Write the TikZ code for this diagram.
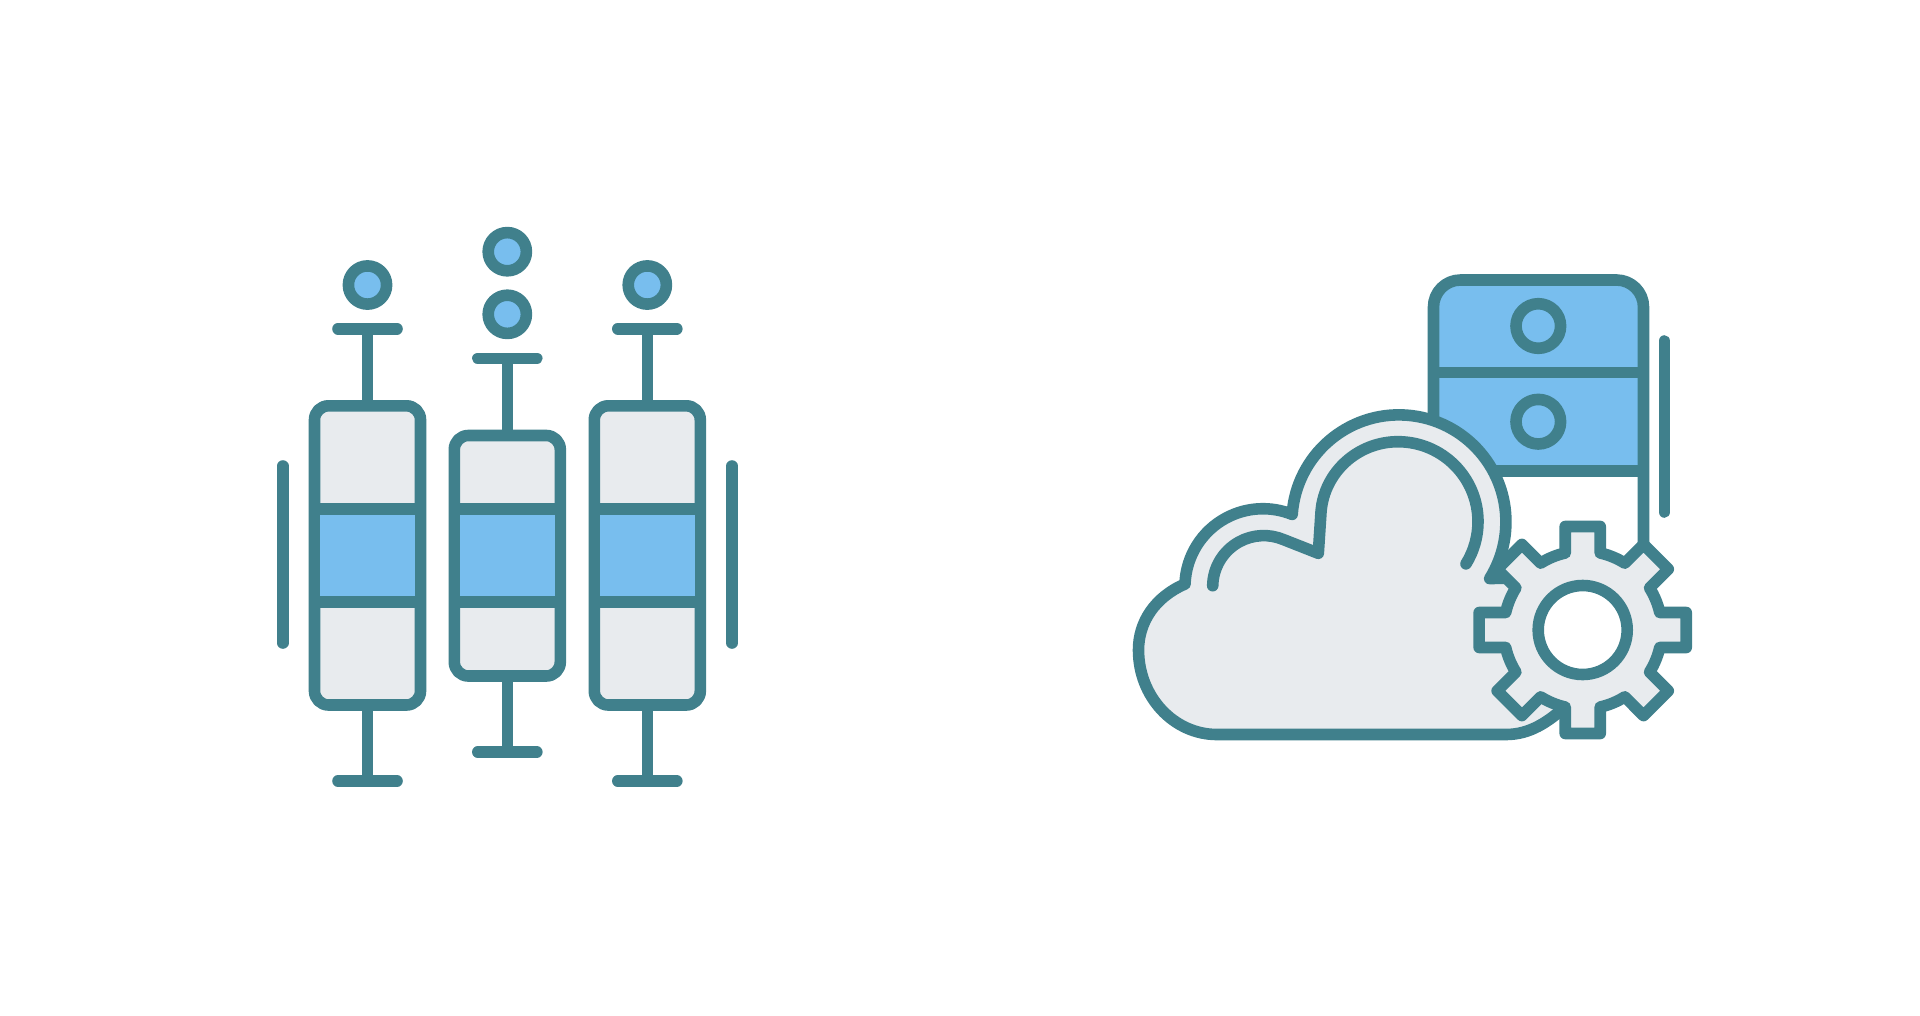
\documentclass[tikz,border=0pt]{standalone}
\definecolor{teal}{RGB}{64,128,140}
\definecolor{skyb}{RGB}{120,190,238}
\definecolor{pale}{RGB}{232,235,238}
\tikzset{
  ink/.style={draw=teal,line width=11.6pt,line join=round},
  tick/.style={ink,line cap=round},
  bar/.style={ink,line cap=butt},
}
\newcommand{\candle}[5]{%
  % cx, top, bottom, top-cap y, bottom-cap y
  \draw[bar,fill=pale,rounded corners=14pt] (#1-53,#2) rectangle (#1+53,#3);
  \draw[bar,fill=skyb] (#1-53,509) rectangle (#1+53,601.7);
  \draw[bar] (#1,#2) -- (#1,#4);
  \draw[bar] (#1,#3) -- (#1,#5);
  \draw[tick] (#1-29.5,#4) -- (#1+29.5,#4);
  \draw[tick] (#1-29.5,#5) -- (#1+29.5,#5);
}
\begin{document}
\begin{tikzpicture}[x=1pt,y=1pt,yscale=-1]
\useasboundingbox (0,0) rectangle (1920,1015);
\fill[white] (0,0) rectangle (1920,1015);
% ---------- left icon
\candle{367.5}{405.8}{705}{328.7}{781}
\candle{507.3}{435.5}{676}{358.3}{752}
\candle{647.3}{405.8}{705}{328.7}{781}
\draw[ink,fill=skyb] (367.5,285) circle[radius=19.1pt];
\draw[ink,fill=skyb] (507.3,251.7) circle[radius=19.1pt];
\draw[ink,fill=skyb] (507.3,314.3) circle[radius=19.1pt];
\draw[ink,fill=skyb] (647.3,285) circle[radius=19.1pt];
\draw[tick] (282.7,466) -- (282.7,643);
\draw[tick] (732,466) -- (732,643);
% ---------- server
\fill[skyb,rounded corners=27pt] (1433.5,520) -- (1433.5,280) -- (1643.5,280) -- (1643.5,520) -- cycle;
\fill[white] (1433.5,470.7) rectangle (1643.5,560);
\draw[ink,rounded corners=27pt] (1433.5,520) -- (1433.5,280) -- (1643.5,280) -- (1643.5,548);
\draw[bar] (1433.5,372.3) -- (1643.5,372.3);
\draw[bar] (1433.5,470.7) -- (1643.5,470.7);
\draw[ink] (1538.3,326) circle[radius=22.3pt];
\draw[ink] (1538.3,421.7) circle[radius=22.3pt];
\draw[tick] (1664.3,341) -- (1664.3,512);
% ---------- cloud
\draw[ink,fill=pale]
  (1217,734.5) arc[start angle=90,end angle=180,x radius=78.5pt,y radius=84.5pt]
  .. controls (1138.5,622) and (1155,597) .. (1185,584)
  arc[start angle=182,end angle=292,radius=78pt]
  arc[start angle=184,end angle=392,radius=107pt]
  -- (1512,578) -- (1560,640) -- (1566,706)
  .. controls (1548,722) and (1530,734.5) .. (1506,734.5) -- cycle;
\draw[tick]
  (1212.7,585.7) arc[start angle=181,end angle=293,radius=51pt]
  -- (1318.3,553.3) -- (1321,512)
  .. controls (1324,472) and (1358,441.7) .. (1398,441.7)
  arc[start angle=270,end angle=391.8,radius=80pt];
% ---------- gear
\begin{scope}[shift={(1582.7,630)}]
\draw[ink,fill=pale] (-12.8:79pt)
  foreach \a in {0,45,...,315} {
    -- (\a-9.6:105pt) -- (\a+9.6:105pt) -- (\a+12.8:79pt)
    arc[start angle=\a+12.8,end angle=\a+32.2,radius=79pt]
  } -- cycle;
\draw[ink,fill=white] (0,0) circle[radius=44.5pt];
\end{scope}
\end{tikzpicture}
\end{document}
